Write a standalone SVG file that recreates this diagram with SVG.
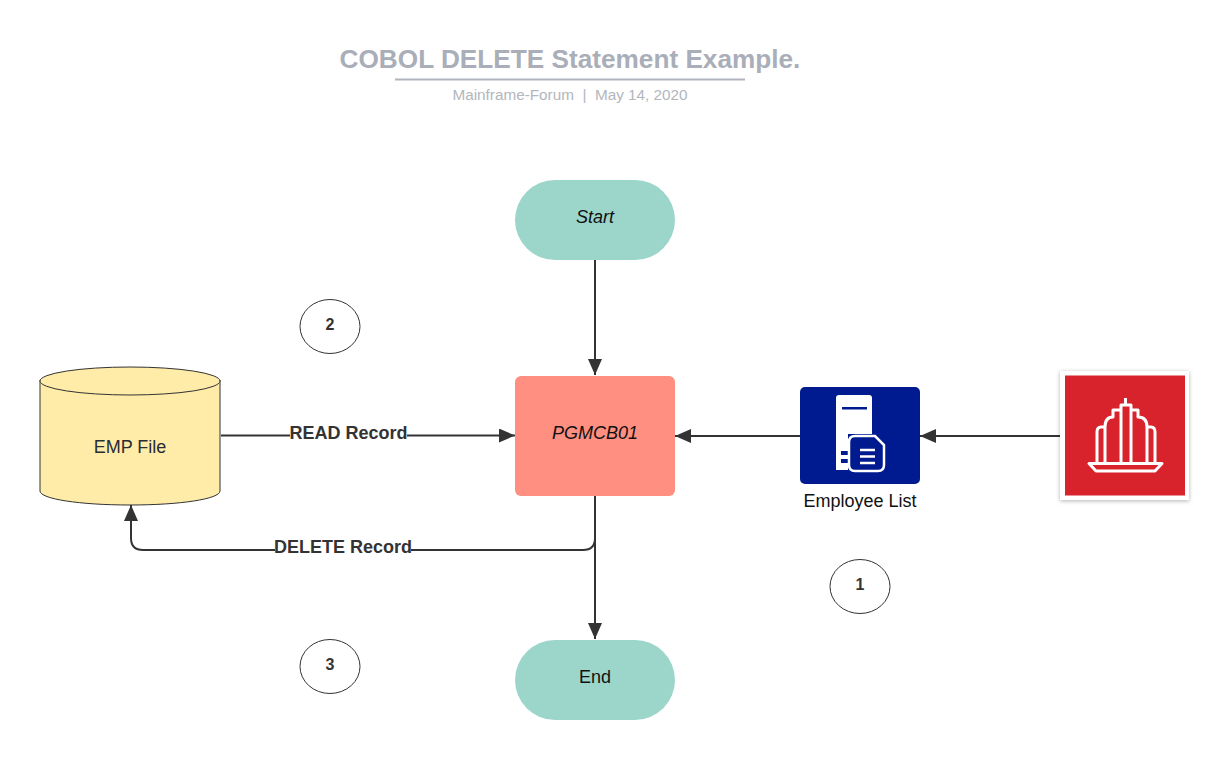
<svg xmlns="http://www.w3.org/2000/svg" width="1229" height="760" viewBox="0 0 1229 760">
<style>
text{font-family:"Liberation Sans",Arial,sans-serif;text-anchor:middle}
.c{fill:none;stroke:#333;stroke-width:2}
.l{font-size:18px;font-weight:bold;fill:#333}
.n{font-size:18px;fill:#282c33}
.i{font-style:italic;fill:#111}
.num{fill:#fff;stroke:#333;stroke-width:1}
.b{font-size:16px;font-weight:bold;fill:#333}
.w{fill:none;stroke:#fff;stroke-width:3;stroke-linejoin:round}
</style>
<defs>
<marker id="a" markerUnits="userSpaceOnUse" markerWidth="16" markerHeight="14" refX="16" refY="7" orient="auto"><path d="M0 0L16 7L0 14Z" fill="#333"/></marker>
<filter id="s" x="-10%" y="-10%" width="120%" height="120%"><feDropShadow dx="0" dy="1" stdDeviation="2" flood-color="#000" flood-opacity=".3"/></filter>
</defs>
<rect width="1229" height="760" fill="#fff"/>
<g id="title">
<text x="570" y="68" font-size="26.200" font-weight="bold" fill="#a9aeb9">COBOL DELETE Statement Example.</text>
<line x1="395" y1="79.500" x2="745" y2="79.500" stroke="#b0b4bd" stroke-width="2"/>
<text x="570" y="100" font-size="15.300" fill="#b3b6bd" xml:space="preserve">Mainframe-Forum  |  May 14, 2020</text>
</g>
<g id="connectors">
<path class="c" marker-end="url(#a)" d="M595 260V375"/>
<path class="c" marker-end="url(#a)" d="M221 435.500H515"/>
<path class="c" marker-end="url(#a)" d="M595 496V639"/>
<path class="c" marker-end="url(#a)" d="M595 530V538Q595 550 583 550H143Q131 550 131 538V505"/>
<path class="c" marker-end="url(#a)" d="M800 436H675"/>
<path class="c" marker-end="url(#a)" d="M1060 436H920"/>
<rect x="290" y="424" width="117" height="20" fill="#fff"/>
<text class="l" x="348.500" y="439">READ Record</text>
<rect x="275" y="538" width="136" height="20" fill="#fff"/>
<text class="l" x="343" y="553">DELETE Record</text>
</g>
<g id="start"><rect x="515" y="180" width="160" height="80" rx="40" fill="#9cd6cb"/><text class="n i" x="595" y="223">Start</text></g>
<g id="pgm"><rect x="515" y="376" width="160" height="120" rx="6" fill="#ff8f80"/><text class="n i" x="595" y="439">PGMCB01</text></g>
<g id="end"><rect x="515" y="640" width="160" height="80" rx="40" fill="#9cd6cb"/><text class="n" x="595" y="683" style="fill:#111">End</text></g>
<g id="emp">
<path d="M40 380V491C40 499 80 505 130 505S220 499 220 491V380Z" fill="#ffeca9" stroke="#333"/>
<ellipse cx="130" cy="381" rx="90" ry="14" fill="#ffeca9" stroke="#333"/>
<text class="n" x="130" y="453">EMP File</text>
</g>
<g id="employee-list">
<rect x="800" y="387" width="120" height="97" rx="5" fill="#001a8f"/>
<path d="M839 395H869Q872 395 872 398V434H848V470H836V398Q836 395 839 395Z" fill="#fff"/>
<rect x="842" y="407" width="25" height="2.500" fill="#001a8f"/>
<rect x="841" y="451" width="8" height="4" fill="#001a8f"/>
<rect x="841" y="459" width="8" height="4" fill="#001a8f"/>
<path d="M855 436H875L884 445V465Q884 471 878 471H855Q849 471 849 465V442Q849 436 855 436Z" fill="#001a8f" stroke="#fff" stroke-width="2.500"/>
<path d="M860 450H875M860 456.500H875M860 463H875" stroke="#fff" stroke-width="2.500" fill="none"/>
<text x="860" y="507" font-size="18" fill="#111">Employee List</text>
</g>
<g id="building">
<rect x="1060" y="371" width="129" height="129" fill="#fff" filter="url(#s)"/>
<rect x="1065" y="375.500" width="120" height="120" fill="#d8232c"/>
<path class="w" d="M1125.500 398V405M1105 463V427Q1105 417 1113 417V410H1121V405H1131V410H1138V417Q1147 417 1147 427V463M1105 427H1101Q1097 427 1097 432V463M1147 427H1151Q1155 427 1155 432V463M1121 405V463M1131 405V463"/>
<path class="w" d="M1089 463.500H1162L1155 471H1096Z"/>
</g>
<g id="n1"><ellipse class="num" cx="860" cy="586.500" rx="30" ry="27"/><text class="b" x="860" y="590">1</text></g>
<g id="n2"><ellipse class="num" cx="330" cy="326.500" rx="30" ry="27"/><text class="b" x="330" y="330">2</text></g>
<g id="n3"><ellipse class="num" cx="330" cy="666.500" rx="30" ry="27"/><text class="b" x="330" y="670">3</text></g>
</svg>
